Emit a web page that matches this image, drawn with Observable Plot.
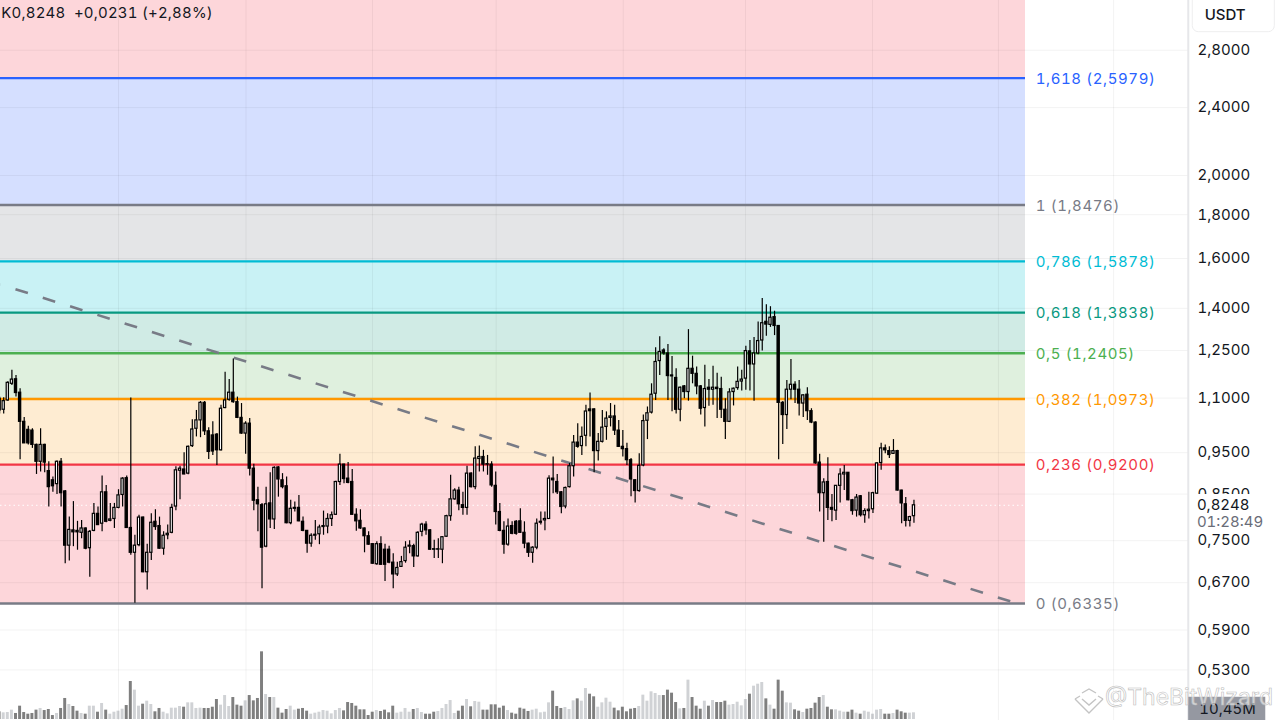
<!DOCTYPE html>
<html><head><meta charset="utf-8">
<script src="https://cdn.jsdelivr.net/npm/d3@7"></script>
<script src="https://cdn.jsdelivr.net/npm/@observablehq/plot@0.6"></script>
<style>
html,body{margin:0;padding:0;background:#fff;overflow:hidden}
#wrap{position:relative;width:1280px;height:720px;font-family:Inter,sans-serif}
#vol,#price{position:absolute;left:0;top:0}
#logo{position:absolute;left:1074px;top:688px}
#wm{position:absolute;left:1105px;top:683px;font:23px Inter,sans-serif;color:rgba(255,255,255,.6);-webkit-text-stroke:.6px #bdbdbd;white-space:nowrap}
.lvl text{letter-spacing:.6px}
.head text{letter-spacing:.2px}
svg{font-variant-numeric:tabular-nums}
</style></head><body>
<div id="wrap"><div id="vol"></div><div id="price"></div>
<svg id="logo" width="30" height="26" viewBox="0 0 30 26" fill="none" stroke="#c4c4c4" stroke-width="1.4"><path d="M8 5l7-4 7 4M1 11l5-3M29 11l-5-3M1 11l14 14 14-14M8 11l7 6 7-6"/></svg>
<div id="wm">@TheBitWizard</div></div>
<script>
const opens=[1.098,1.066,1.093,1.143,1.157,1.116,1.032,1.010,1.008,.970,
.927,.970,.904,.882,.873,.927,.856,.740,.771,.770,
.766,.775,.735,.770,.806,.785,.854,.791,.795,.819,
.848,.887,.776,.726,.741,.798,.689,.726,.789,.780,
.734,.761,.766,.822,.905,.908,.898,.967,1.013,1.036,
1.086,1.006,.995,.997,.956,1.071,1.095,1.116,1.088,1.043,
1.000,1.027,.910,.836,.825,.738,.829,.794,.913,.882,
.868,.786,.817,.819,.789,.770,.744,.760,.763,.778,
.779,.795,.804,.878,.920,.886,.878,.804,.791,.775,
.759,.743,.704,.743,.732,.732,.707,.685,.699,.710,
.738,.739,.719,.768,.783,.771,.733,.732,.732,.758,
.801,.838,.858,.825,.819,.898,.866,.934,.939,.921,
.920,.869,.810,.770,.742,.780,.789,.790,.766,.744,
.726,.736,.787,.792,.795,.886,.878,.854,.822,.866,
.916,.976,.967,.994,1.067,1.067,.954,.978,1.018,1.043,
1.047,1.008,.965,.959,.931,.882,.857,.918,1.035,1.058,
1.113,1.215,1.250,1.240,1.169,1.161,1.066,1.135,1.118,1.190,
1.174,1.135,1.071,1.131,1.125,1.131,1.127,1.066,1.032,1.118,
1.130,1.150,1.159,1.247,1.204,1.240,1.284,1.350,1.339,1.367,
1.335,1.086,1.051,1.125,1.140,1.125,1.084,1.110,1.062,1.030,
.925,.852,.878,.819,.813,.869,.896,.900,.836,.813,
.845,.803,.812,.816,.851,.924,.961,.954,.947,.954,
.858,.827,.791,.801];
const highs=[1.103,1.101,1.149,1.185,1.169,1.128,1.044,1.020,1.013,.972,
1.013,.972,.927,.890,.929,.935,.858,.799,.833,.790,
.792,.776,.771,.829,.821,.892,.870,.829,.829,.860,
.888,.892,1.100,.761,.803,.799,.743,.806,.815,.799,
.768,.782,.827,.915,.916,.950,.967,1.038,1.064,1.090,
1.090,1.016,1.032,1.000,1.079,1.179,1.156,1.222,1.103,1.084,
1.032,1.041,.921,.866,.829,.866,.900,.915,.915,.898,
.890,.836,.832,.847,.799,.771,.764,.792,.782,.812,
.806,.810,.880,.946,.921,.925,.908,.817,.815,.776,
.768,.744,.748,.758,.743,.739,.724,.708,.719,.748,
.750,.743,.768,.786,.789,.773,.751,.754,.758,.803,
.894,.862,.866,.854,.916,.900,.965,.967,.956,.943,
.927,.902,.829,.789,.795,.789,.792,.817,.789,.745,
.738,.795,.810,.810,.893,.939,.896,.856,.866,.923,
.995,1.027,1.018,1.079,1.115,1.069,1.000,1.064,1.060,1.084,
1.079,1.036,1.008,.974,.935,.884,.947,1.051,1.074,1.143,
1.259,1.297,1.256,1.270,1.230,1.190,1.133,1.138,1.322,1.231,
1.196,1.138,1.201,1.156,1.198,1.176,1.163,1.098,1.128,1.130,
1.196,1.185,1.264,1.284,1.294,1.349,1.437,1.413,1.406,1.389,
1.337,1.090,1.153,1.220,1.149,1.153,1.110,1.131,1.069,1.032,
.946,.886,.937,.849,.870,.910,.918,.901,.838,.849,
.847,.817,.854,.854,.925,.974,.970,.965,.984,.956,
.859,.842,.801,.836];
const lows=[1.054,1.054,1.091,1.138,1.103,.932,.974,.970,.961,.896,
.902,.900,.821,.854,.849,.821,.705,.710,.738,.731,
.754,.732,.680,.768,.781,.768,.787,.789,.775,.817,
.821,.775,.721,.634,.738,.688,.657,.711,.771,.733,
.721,.752,.764,.813,.837,.895,.895,.963,.991,.989,
.995,.933,.943,.918,.954,1.069,1.091,1.085,1.041,.998,
.946,.892,.813,.768,.659,.736,.775,.773,.843,.862,
.785,.783,.810,.789,.768,.725,.737,.751,.742,.761,
.764,.779,.803,.870,.874,.874,.803,.769,.773,.726,
.741,.704,.702,.702,.672,.705,.659,.681,.698,.706,
.724,.698,.718,.758,.761,.731,.715,.715,.705,.757,
.790,.836,.813,.803,.803,.864,.860,.902,.902,.894,
.866,.782,.768,.723,.739,.762,.761,.765,.734,.717,
.706,.732,.782,.770,.794,.851,.849,.806,.817,.864,
.890,.961,.943,.965,.991,.900,.929,.975,.982,1.018,
.995,.963,.939,.918,.844,.830,.854,.915,.984,1.054,
1.093,1.169,1.234,1.093,1.060,1.054,1.032,1.098,1.091,1.143,
1.110,1.051,1.018,1.076,1.079,1.041,1.041,.984,1.030,1.077,
1.123,1.121,1.123,1.121,1.091,1.236,1.248,1.299,1.330,1.301,
.932,.971,1.011,1.095,1.084,1.048,1.044,1.036,1.027,.921,
.810,.747,.792,.789,.792,.830,.858,.835,.803,.799,
.799,.786,.795,.807,.849,.906,.947,.935,.946,.857,
.785,.778,.778,.786];
const closes=[1.064,1.091,1.146,1.156,1.115,1.032,.974,.974,.970,.927,
.970,.925,.866,.868,.927,.852,.740,.772,.767,.767,
.775,.734,.768,.806,.782,.854,.789,.794,.819,.847,
.886,.776,.726,.740,.798,.689,.726,.787,.778,.734,
.760,.764,.819,.906,.910,.896,.965,1.011,1.036,1.086,
1.006,.952,.953,.956,1.069,1.093,1.116,1.088,1.043,1.000,
1.027,.910,.835,.827,.736,.827,.794,.912,.884,.866,
.786,.817,.819,.790,.770,.744,.760,.762,.777,.780,
.795,.803,.878,.920,.885,.876,.804,.790,.775,.759,
.742,.705,.743,.703,.703,.707,.685,.697,.708,.736,
.740,.719,.766,.783,.771,.732,.732,.733,.757,.801,
.838,.858,.827,.819,.898,.866,.935,.939,.920,.920,
.870,.810,.770,.742,.779,.764,.764,.766,.744,.726,
.736,.785,.789,.795,.886,.882,.854,.821,.864,.916,
.976,.965,.991,1.061,1.062,.954,.978,1.016,1.041,1.047,
1.008,.965,.959,.931,.884,.857,.917,1.034,1.056,1.110,
1.212,1.245,1.240,1.167,1.166,1.066,1.131,1.118,1.190,1.174,
1.135,1.069,1.127,1.125,1.131,1.127,1.066,1.032,1.117,1.128,
1.149,1.156,1.248,1.204,1.240,1.282,1.345,1.340,1.365,1.335,
1.086,1.051,1.125,1.140,1.125,1.084,1.108,1.062,1.030,.923,
.852,.877,.819,.815,.869,.896,.900,.836,.812,.842,
.803,.812,.815,.852,.923,.961,.956,.944,.954,.858,
.829,.791,.799,.8248];
const volumes=[12,10.4,10.9,14.6,9.4,20.8,10.9,8.3,9.4,14.6,
17.2,14,15.6,6.2,9.4,17.2,32.8,23.4,20.3,13,
9.4,8.3,20.8,20.8,11.4,25,14.6,8.3,11.4,13,
16.1,21.8,59.3,45.8,20.8,23.9,28.6,23.4,12,17.2,
11.4,8.8,17.7,17.7,20.3,19.2,26,26,17.2,17.7,
17.2,17.2,19.2,31.2,22.4,37.4,20.3,34.3,22.4,20.8,
29.1,37.4,29.1,32.8,105.6,39,34.3,34.3,17.7,9.9,
15.6,20.8,14.6,16.1,17.2,13,8.3,9.9,11.4,14,
13,8.8,14,17.2,13.5,26.5,25,20.8,15.1,15.1,
6.2,11.4,14,12.5,14.6,10.4,20.8,9.9,11.4,17.2,
11.4,15.6,17.2,10.9,8.3,8.3,11.4,12.5,17.2,23.4,
29.6,9.4,13,20.8,31.2,19.8,28.1,27,14.6,14.6,
22.9,22.9,17.7,20.8,14,9.9,8.3,17.7,16.1,12.5,
14.6,16.1,10.4,11.4,26,44.2,20.3,17.2,18.7,15.6,
29.1,32.2,28.6,48.4,39.5,35.4,19.2,26,33.3,27,
17.7,13.5,19.2,12,16.1,17.2,20.3,38,28.6,43.2,
40.6,37.4,37.4,45.8,41.1,26.5,16.6,17.2,61.4,34.3,
20.8,16.1,28.6,20.8,29.6,26.5,26.5,28.6,22.4,23.4,
27,21.3,31.2,39.5,52,55.1,57.7,32.2,22.4,16.1,
61.4,44.2,26,25.5,15.1,13,10.9,16.1,17.2,25.5,
34.3,37.4,19.2,15.1,15.1,13,11.4,11.4,14.6,9.9,
8.3,13,11.4,8.3,14.6,15.6,8.3,8.3,9.4,14.6,
12,9.9,9.9,10.45];

const fibRatios=["1,618","1","0,786","0,618","0,5","0,382","0,236","0"];
const fibPrices=[2.5979,1.8476,1.5878,1.3838,1.2405,1.0973,0.92,0.6335];
const fibLabels=["2,5979","1,8476","1,5878","1,3838","1,2405","1,0973","0,9200","0,6335"];
const fibColors=["#2962ff","#787b86","#00bcd4","#089981","#4caf50","#ff9800","#f23645","#787b86"];
const bandFills=["#fdd6da","#d5dfff","#e4e5e7","#c9f2f5","#d0ebe5","#dff0de","#feecd2","#fdd6da"];
const bandTop=3.3;
const yTicks=[2.8,2.4,2.0,1.8,1.6,1.4,1.25,1.1,0.95,0.85,0.75,0.67,0.59,0.53];
const timeGrid=[29,60.1,90.95,121.1,152.1,181.9,212.9,243.6,271.7];
const trendX=[0.22,246.6], trendY=[1.4924,0.637];
const lastPrice=0.8248;
const xLeft=0.22, xFibEnd=250.2, xFibLabel=252.7, xAxisEdge=290.2, xRightEdge=312.4;

const candles=opens.map((o,i)=>({i,o,h:highs[i],l:lows[i],c:closes[i],v:volumes[i],up:closes[i]>=o}));
const bands=fibPrices.map((p,k)=>({top:k?fibPrices[k-1]:bandTop,bottom:p,fill:bandFills[k]}));
const levels=fibPrices.map((p,k)=>({p,color:fibColors[k],label:`${fibRatios[k]} (${fibLabels[k]})`}));
const trend=trendX.map((x,k)=>({x,y:trendY[k]}));
const fmt=d=>d3.format(".4f")(d).replace(".",",");
const x={domain:[xLeft,xAxisEdge],range:[0,1189],axis:null};
const gridStyle={stroke:"#000",strokeOpacity:0.05};

const price=Plot.plot({
  width:1280,height:720,marginTop:0,marginBottom:0,marginLeft:0,marginRight:91,
  style:{background:"transparent",fontFamily:"Inter, sans-serif"},
  x,
  y:{type:"log",domain:[0.4627,3.2],range:[720,0]},
  marks:[
    Plot.rect(bands,{x1:xLeft,x2:xFibEnd,y1:"bottom",y2:"top",fill:"fill"}),
    Plot.ruleY(yTicks,{...gridStyle}),
    Plot.ruleX(timeGrid,{...gridStyle}),
    Plot.ruleY([lastPrice],{x1:xLeft,x2:xAxisEdge,stroke:"#fff",strokeDasharray:"1.5,3",strokeWidth:1}),
    Plot.ruleY(levels,{y:"p",x1:xLeft,x2:xFibEnd,stroke:"color",strokeWidth:2.4}),
    Plot.line(trend,{x:"x",y:"y",stroke:"#787b86",strokeWidth:2.6,strokeLinecap:"butt",strokeDasharray:"13,15.6",strokeDashoffset:12.9}),
    Plot.ruleX(candles,{x:"i",y1:"l",y2:"h",stroke:"#000",strokeWidth:1.2}),
    Plot.rect(candles,{x1:d=>d.i-0.27,x2:d=>d.i+0.27,y1:"o",y2:"c",fill:d=>d.up?"#fff":"#000",stroke:"#000",strokeWidth:1.2}),
    Plot.text(levels,{x:xFibLabel,y:"p",dy:1,text:"label",fill:"color",textAnchor:"start",fontSize:15,className:"lvl"}),
    Plot.ruleX([289.9],{stroke:"#e6e7ea",strokeWidth:2}),
    Plot.axisY({anchor:"right",ticks:yTicks,tickSize:0,tickPadding:8,tickFormat:fmt,fontSize:15,fill:"#131722",label:null}),
    Plot.rect([{}],{x1:290.6,x2:xRightEdge,y1:0.7722,y2:0.849,fill:"#fff"}),
    Plot.text([lastPrice],{x:292,y:d=>d,text:fmt,fill:"#131722",textAnchor:"start",fontSize:15}),
    Plot.text(["01:28:49"],{x:292,y:0.7874,text:d=>d,fill:"#6a6d78",textAnchor:"start",fontSize:15}),
    Plot.rect([{}],{x1:291,x2:311,y1:2.939,y2:3.4,fill:"#fff",stroke:"#eeeeef",rx:6}),
    Plot.text(["USDT"],{x:293.9,y:3.073,text:d=>d,fill:"#131722",textAnchor:"start",fontSize:15,fontWeight:500}),
    Plot.text(["K0,8248  +0,0231 (+2,88%)"],{x:0.42,y:3.09,text:d=>d,fill:"#131722",textAnchor:"start",fontSize:15,className:"head"}),
    Plot.rect([{}],{x1:290,x2:308.8,y1:0.4627,y2:0.4925,fill:"#9598a1"}),
    Plot.text(["10,45M"],{x:292.6,y:0.4766,text:d=>d,fill:"#131722",textAnchor:"start",fontSize:15})
  ]
});
document.getElementById("price").appendChild(price);

const vol=Plot.plot({
  width:1280,height:720,marginTop:0,marginBottom:0,marginLeft:0,marginRight:91,
  style:{background:"transparent"},
  x,
  y:{domain:[0,1122],range:[719,0],axis:null},
  marks:[
    Plot.rect(candles,{x1:d=>d.i-0.36,x2:d=>d.i+0.36,y1:0,y2:"v",fill:d=>d.up?"#d0d2d5":"#7f7f7f"})
  ]
});
document.getElementById("vol").appendChild(vol);
</script></body></html>
